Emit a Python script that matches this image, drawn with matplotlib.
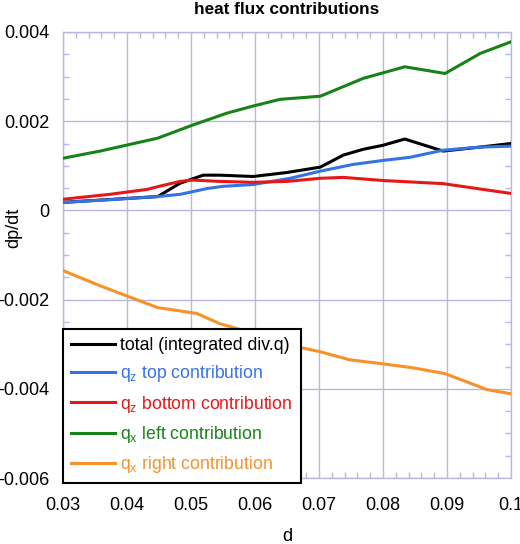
import matplotlib
matplotlib.use("Agg")
import matplotlib.pyplot as plt
from matplotlib.ticker import FixedLocator, MultipleLocator

plt.rcParams['font.family'] = ['Liberation Sans', 'DejaVu Sans']
plt.rcParams['mathtext.fontset'] = 'custom'
plt.rcParams['mathtext.rm'] = 'Liberation Sans'
plt.rcParams['mathtext.it'] = 'Liberation Sans'

# data (values in units of 1e-3)
d_total = [0.03, 0.0448, 0.0483, 0.0519, 0.0545, 0.0597, 0.065, 0.0702, 0.0738, 0.0769, 0.08, 0.0834, 0.0894, 0.0952, 0.1]
v_total = [0.18, 0.31, 0.61, 0.79, 0.79, 0.76, 0.85, 0.97, 1.24, 1.37, 1.46, 1.60, 1.33, 1.42, 1.50]

d_top = [0.03, 0.0373, 0.0448, 0.0483, 0.0525, 0.055, 0.0597, 0.0655, 0.0702, 0.0753, 0.08, 0.0842, 0.0894, 0.0952, 0.1]
v_top = [0.18, 0.24, 0.31, 0.36, 0.49, 0.54, 0.58, 0.72, 0.88, 1.03, 1.12, 1.19, 1.35, 1.42, 1.44]

d_bottom = [0.03, 0.0373, 0.0431, 0.0456, 0.0483, 0.0503, 0.0545, 0.0597, 0.065, 0.0702, 0.0738, 0.08, 0.0894, 0.1]
v_bottom = [0.25, 0.36, 0.47, 0.56, 0.65, 0.68, 0.65, 0.63, 0.65, 0.72, 0.74, 0.67, 0.60, 0.38]

d_left = [0.03, 0.0358, 0.0448, 0.0502, 0.0556, 0.0597, 0.0639, 0.0702, 0.0769, 0.0834, 0.0897, 0.0952, 0.1]
v_left = [1.17, 1.33, 1.62, 1.91, 2.18, 2.34, 2.49, 2.56, 2.96, 3.22, 3.07, 3.52, 3.78]

d_right = [0.03, 0.0358, 0.0402, 0.0448, 0.0509, 0.0545, 0.0589, 0.0666, 0.0702, 0.0748, 0.08, 0.0847, 0.0897, 0.0963, 0.1]
v_right = [-1.35, -1.69, -1.93, -2.18, -2.31, -2.54, -2.72, -3.06, -3.17, -3.35, -3.44, -3.53, -3.66, -4.02, -4.11]

labels = ["total (integrated div.q)",
          r"$\mathregular{q_{z}}$ top contribution",
          r"$\mathregular{q_{z}}$ bottom contribution",
          r"$\mathregular{q_{x}}$ left contribution",
          r"$\mathregular{q_{x}}$ right contribution"]
colors = ["#000000", "#3373e6", "#e61717", "#178217", "#f5922a"]

xticks = [0.03, 0.04, 0.05, 0.06, 0.07, 0.08, 0.09, 0.1]
xticklabels = ["0.03", "0.04", "0.05", "0.06", "0.07", "0.08", "0.09", "0.1"]
yticks = [-0.006, -0.004, -0.002, 0, 0.002, 0.004]
yticklabels = ["-0.006", "-0.004", "-0.002", "0", "0.002", "0.004"]

fig = plt.figure(figsize=(5.2, 5.44), dpi=100)
ax = fig.add_axes([63/520, 1-478/544, 448/520, 446/544])

series = [(d_total, v_total), (d_top, v_top), (d_bottom, v_bottom), (d_left, v_left), (d_right, v_right)]
for (dx, vy), lab, c in zip(series, labels, colors):
    ax.plot(dx, [v * 1e-3 for v in vy], color=c, lw=2.2, label=lab, solid_joinstyle='round', zorder=3)

grid_c = "#b8b8e2"
ax.set_xlim(0.03, 0.1)
ax.set_ylim(-0.006, 0.004)
ax.xaxis.set_major_locator(FixedLocator(xticks))
ax.set_xticklabels(xticklabels)
ax.yaxis.set_major_locator(FixedLocator(yticks))
ax.set_yticklabels(yticklabels)
ax.xaxis.set_minor_locator(MultipleLocator(0.002))
ax.yaxis.set_minor_locator(MultipleLocator(0.0005))
ax.grid(True, which='major', color=grid_c, lw=1.0, zorder=0)
ax.tick_params(which='both', direction='in', top=True, right=True, colors=grid_c,
               labelcolor='black', labelsize=13)
ax.tick_params(which='major', length=0)
ax.tick_params(axis='x', which='major', pad=14)
ax.tick_params(axis='y', which='major', pad=10)
ax.tick_params(which='minor', length=4, width=1)
for s in ax.spines.values():
    s.set_color(grid_c)
    s.set_linewidth(1.0)

ax.set_title("heat flux contributions", fontsize=12.3, fontweight='bold', pad=13)
ax.set_xlabel("d", fontsize=13)
ax.xaxis.set_label_coords(0.5, -0.112)
ax.set_ylabel("dp/dt", fontsize=13)
ax.yaxis.set_label_coords(-0.092, 0.56)

leg = ax.legend(loc='lower left', bbox_to_anchor=(0.0, -0.011), fontsize=12.7,
                frameon=True, fancybox=False, framealpha=1, edgecolor='black',
                handlelength=2.5, handletextpad=0.3, borderpad=0.45, labelspacing=0.52,
                borderaxespad=0.0)
leg.get_frame().set_linewidth(1.5)
for t, c in zip(leg.get_texts(), colors):
    t.set_color(c)
leg.set_zorder(5)

fig.savefig("out.png", dpi=100)
